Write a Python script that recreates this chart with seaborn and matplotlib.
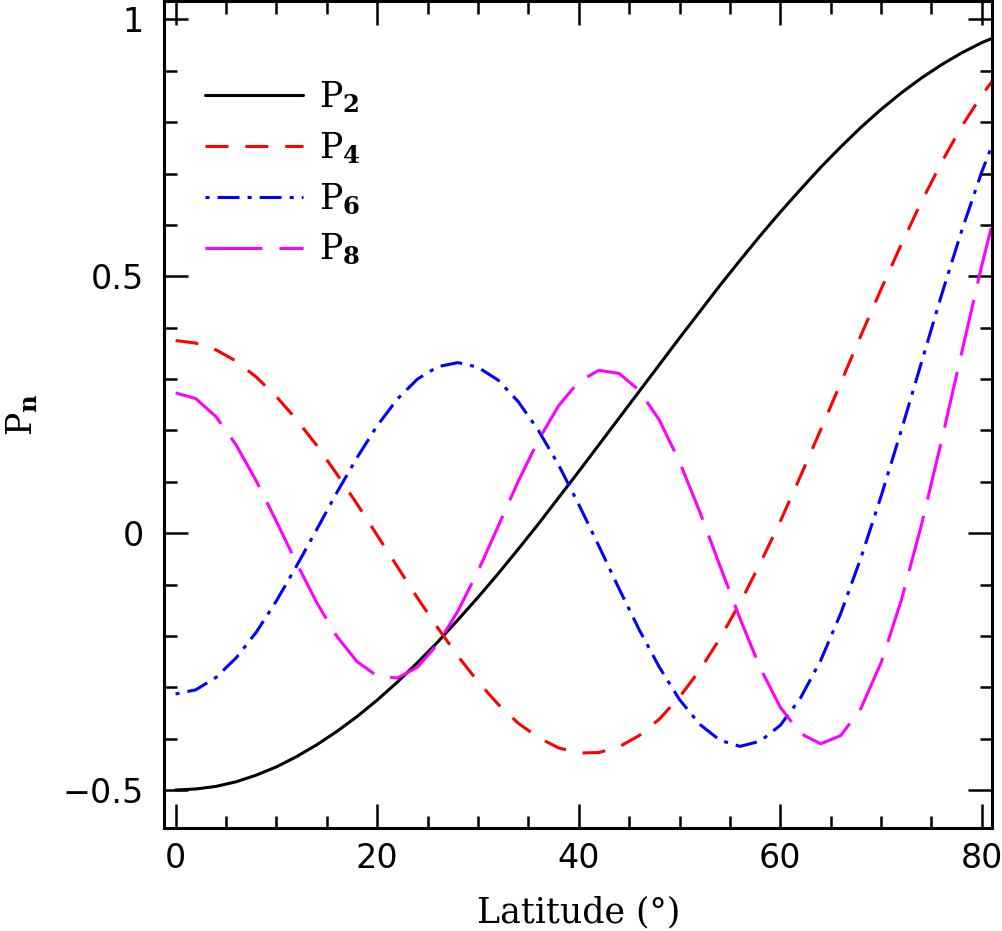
import numpy as np
import pandas as pd
import matplotlib
matplotlib.use("Agg")
import matplotlib.pyplot as plt
import seaborn as sns
from matplotlib.ticker import MultipleLocator, FixedLocator, FixedFormatter


# Values (latitude in degrees, every 2 deg)
latitude = [0, 2, 4, 6, 8, 10, 12, 14, 16, 18, 20, 22, 24, 26, 28, 30, 32, 34, 36, 38, 40,
            42, 44, 46, 48, 50, 52, 54, 56, 58, 60, 62, 64, 66, 68, 70, 72, 74, 76, 78, 80, 82]

p2 = [-0.500, -0.498, -0.493, -0.484, -0.471, -0.455, -0.435, -0.412, -0.386, -0.357,
      -0.325, -0.290, -0.252, -0.212, -0.169, -0.125, -0.079, -0.031, 0.018, 0.069,
      0.120, 0.172, 0.224, 0.276, 0.328, 0.380, 0.431, 0.482, 0.531, 0.579,
      0.625, 0.669, 0.712, 0.752, 0.790, 0.825, 0.857, 0.886, 0.912, 0.935, 0.955, 0.971]

p4 = [0.375, 0.370, 0.357, 0.335, 0.304, 0.266, 0.221, 0.171, 0.115, 0.057,
      -0.004, -0.065, -0.126, -0.184, -0.239, -0.289, -0.333, -0.370, -0.398, -0.418,
      -0.428, -0.427, -0.416, -0.394, -0.362, -0.319, -0.267, -0.205, -0.136, -0.059,
      0.023, 0.111, 0.201, 0.293, 0.385, 0.475, 0.562, 0.645, 0.722, 0.792, 0.853, 0.905]

p6 = [-0.313, -0.305, -0.281, -0.243, -0.193, -0.132, -0.064, 0.007, 0.079, 0.147,
      0.209, 0.261, 0.300, 0.324, 0.332, 0.323, 0.298, 0.256, 0.200, 0.133,
      0.056, -0.025, -0.108, -0.188, -0.261, -0.324, -0.372, -0.403, -0.415, -0.405,
      -0.374, -0.321, -0.248, -0.156, -0.048, 0.072, 0.200, 0.332, 0.464, 0.589, 0.704, 0.805]

p8 = [0.273, 0.262, 0.227, 0.172, 0.102, 0.023, -0.058, -0.135, -0.201, -0.250,
      -0.278, -0.282, -0.261, -0.216, -0.152, -0.074, 0.013, 0.101, 0.181, 0.248,
      0.295, 0.317, 0.311, 0.278, 0.220, 0.139, 0.042, -0.063, -0.166, -0.262,
      -0.339, -0.390, -0.410, -0.394, -0.341, -0.252, -0.131, 0.016, 0.180, 0.352, 0.522, 0.678]

series_labels = [r"P$_\mathbf{2}$", r"P$_\mathbf{4}$", r"P$_\mathbf{6}$", r"P$_\mathbf{8}$"]
series_colors = ["black", "#ff0000", "#0000ff", "#ff00ff"]
series_styles = ["-", (0, (16.5, 12.2)), (0, (2.9, 5.8, 15.8, 5.8)), (0, (41, 12.2))]

x_ticks = [0, 20, 40, 60, 80]
x_ticklabels = ["0", "20", "40", "60", "80"]
y_ticks = [-0.5, 0, 0.5, 1]
y_ticklabels = ["\u22120.5", "0", "0.5", "1"]

sns.set_style("ticks")
plt.rcParams["font.family"] = ["DejaVu Sans"]
plt.rcParams["mathtext.fontset"] = "dejavuserif"
plt.rcParams["lines.scale_dashes"] = False
plt.rcParams["text.color"] = "black"
plt.rcParams["axes.labelcolor"] = "black"
plt.rcParams["xtick.color"] = "black"
plt.rcParams["ytick.color"] = "black"

fig = plt.figure(figsize=(10.03, 9.31), dpi=100)
ax = fig.add_axes([0.164, 0.1106, 0.825, 0.8878])

for vals, lab, col, ls in zip([p2, p4, p6, p8], series_labels, series_colors, series_styles):
    sns.lineplot(x=latitude, y=vals, color=col, linestyle=ls, linewidth=2.2, label=lab, ax=ax)

ax.set_xlim(-1.1, 81)
ax.set_ylim(-0.574, 1.035)

ax.xaxis.set_major_locator(FixedLocator(x_ticks))
ax.xaxis.set_major_formatter(FixedFormatter(x_ticklabels))
ax.xaxis.set_minor_locator(MultipleLocator(5))
ax.yaxis.set_major_locator(FixedLocator(y_ticks))
ax.yaxis.set_major_formatter(FixedFormatter(y_ticklabels))
ax.yaxis.set_minor_locator(MultipleLocator(0.1))

ax.tick_params(which="both", direction="in", top=True, right=True, width=1.8, color="black")
ax.tick_params(which="major", length=17)
ax.tick_params(which="minor", length=9)
ax.tick_params(axis="y", which="major", labelsize=24, pad=15, labelcolor="black")
ax.tick_params(axis="x", which="major", labelsize=24, pad=10, labelcolor="black")

for side in ax.spines.values():
    side.set_linewidth(2.2)
    side.set_color("black")

ax.set_xlabel("Latitude (\u00b0)", fontsize=25, family="DejaVu Serif", labelpad=15)
ax.set_ylabel(r"P$_\mathbf{n}$", fontsize=25, family="DejaVu Serif")
ax.yaxis.set_label_coords(-0.15, 0.5)

leg = ax.legend(loc="upper left", bbox_to_anchor=(0.049, 0.906), frameon=False,
                prop={"family": "DejaVu Serif", "size": 25}, handlelength=2.82,
                handletextpad=0.45, labelspacing=0.45, borderpad=0, borderaxespad=0)

fig.savefig("out.png", dpi=100)
